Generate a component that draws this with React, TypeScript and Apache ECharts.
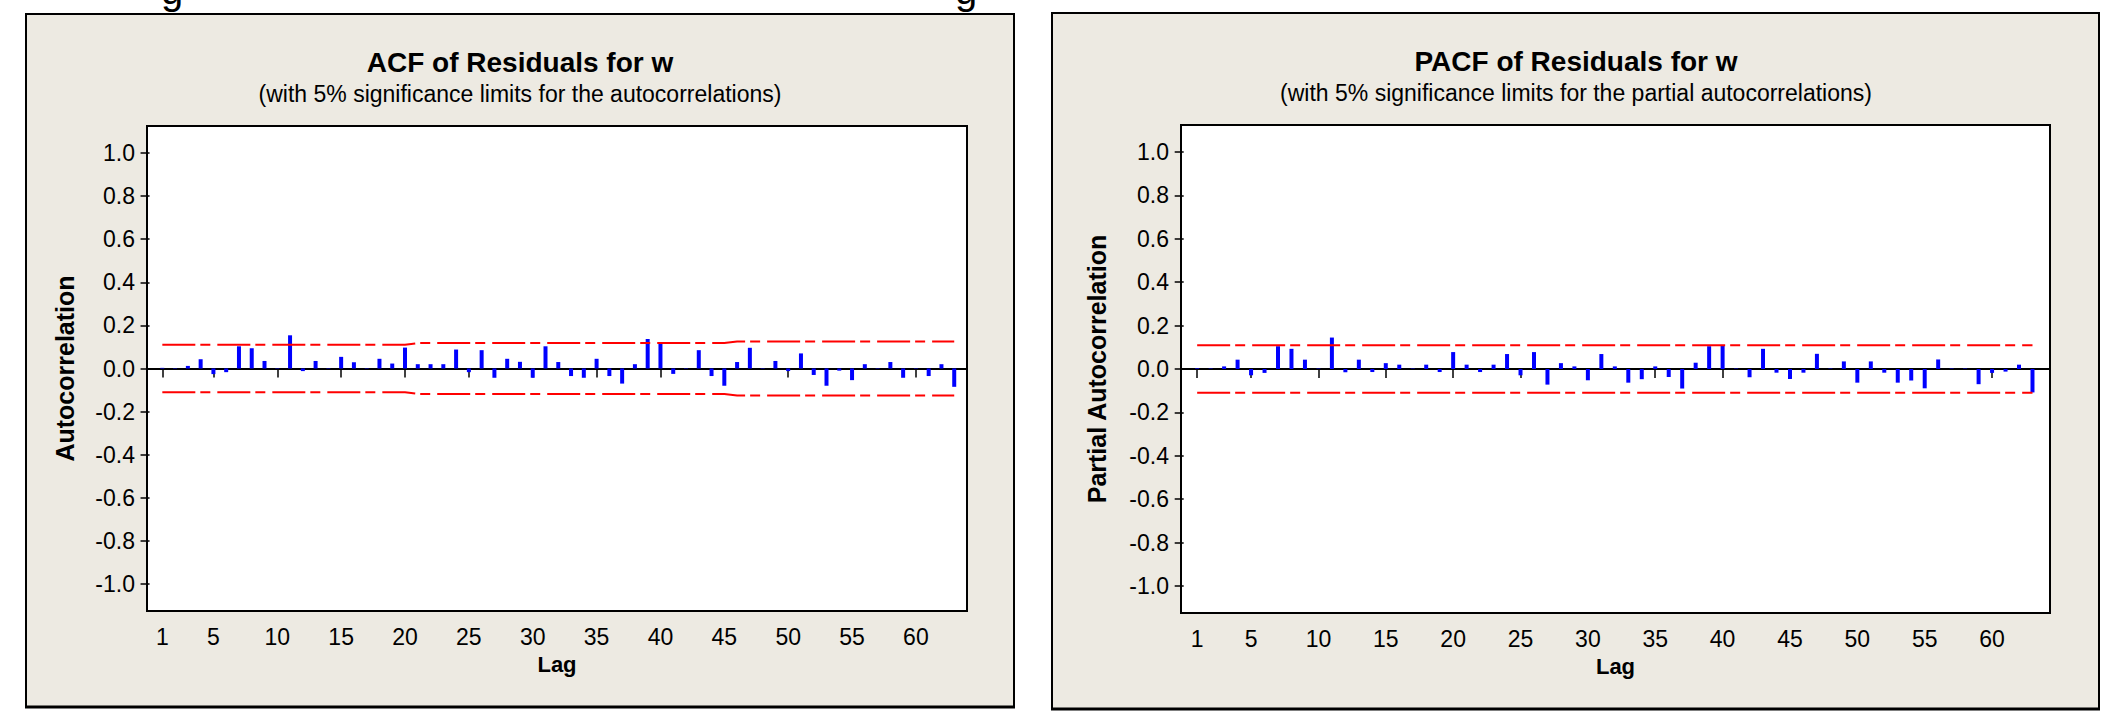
import React, { useEffect, useRef } from "react";
import * as echarts from "echarts";

// ---------- data ----------
const acfValues: number[] = [
  0.003, 0.002, 0.012, 0.043, -0.026, -0.017, 0.103, 0.094, 0.035, 0.002,
  0.154, -0.012, 0.035, 0.002, 0.054, 0.029, 0.002, 0.045, 0.023, 0.097,
  0.02, 0.02, 0.02, 0.088, -0.017, 0.085, -0.043, 0.045, 0.031, -0.043,
  0.103, 0.03, -0.035, -0.043, 0.045, -0.035, -0.07, 0.02, 0.137, 0.115,
  -0.025, 0.002, 0.085, -0.035, -0.08, 0.03, 0.096, 0.002, 0.035, -0.012,
  0.07, -0.03, -0.08, -0.01, -0.054, 0.02, 0.002, 0.03, -0.043, 0.002,
  -0.035, 0.02, -0.085,
];

const acfLimits: number[] = [
  0.11, 0.11, 0.11, 0.11, 0.11, 0.11, 0.11, 0.11, 0.11, 0.11,
  0.11, 0.11, 0.11, 0.11, 0.11, 0.11, 0.11, 0.11, 0.11, 0.11,
  0.118, 0.118, 0.118, 0.118, 0.118, 0.118, 0.118, 0.118, 0.118, 0.118,
  0.118, 0.118, 0.118, 0.118, 0.118, 0.118, 0.118, 0.118, 0.118, 0.118,
  0.118, 0.118, 0.118, 0.118, 0.118, 0.125, 0.125, 0.125, 0.125, 0.125,
  0.125, 0.125, 0.125, 0.125, 0.125, 0.125, 0.125, 0.125, 0.125, 0.125,
  0.125, 0.125, 0.125,
];

const pacfValues: number[] = [
  0.003, 0.002, 0.012, 0.043, -0.029, -0.018, 0.105, 0.093, 0.043, 0.002,
  0.145, -0.015, 0.043, -0.014, 0.027, 0.02, 0.002, 0.02, -0.014, 0.078,
  0.02, -0.014, 0.02, 0.069, -0.029, 0.078, -0.072, 0.027, 0.012, -0.052,
  0.069, 0.012, -0.063, -0.047, 0.012, -0.037, -0.09, 0.029, 0.105, 0.111,
  0.002, -0.038, 0.093, -0.017, -0.046, -0.017, 0.07, 0.002, 0.035, -0.063,
  0.035, -0.017, -0.063, -0.053, -0.089, 0.044, 0.002, 0.002, -0.07, -0.018,
  -0.012, 0.02, -0.108,
];

const pacfLimit = 0.11;
const lagTicks: number[] = [1, 5, 10, 15, 20, 25, 30, 35, 40, 45, 50, 55, 60];
const corrTicks: number[] = [-1, -0.8, -0.6, -0.4, -0.2, 0, 0.2, 0.4, 0.6, 0.8, 1];

const acfTitle = "ACF of Residuals for w";
const acfSubtitle = "(with 5% significance limits for the autocorrelations)";
const pacfTitle = "PACF of Residuals for w";
const pacfSubtitle = "(with 5% significance limits for the partial autocorrelations)";

// ---------- styling ----------
const FONT = '"Liberation Sans", Arial, sans-serif';
const PANEL = "#EDEAE2";
const BAR = "#0000FF";
const RED = "#FF0000";
const DASH = [33, 5, 10, 7];

function xAxis(gridIndex: number, min: number, max: number) {
  return {
    type: "value",
    gridIndex,
    min,
    max,
    name: "Lag",
    nameLocation: "middle",
    nameGap: 42,
    nameTextStyle: { fontFamily: FONT, fontWeight: "bold", fontSize: 22, color: "#000" },
    axisLine: { show: false },
    splitLine: { show: false },
    axisTick: {
      show: true,
      inside: false,
      length: 9,
      customValues: lagTicks,
      lineStyle: { color: "#000", width: 1.5 },
    },
    axisLabel: {
      show: true,
      customValues: lagTicks,
      margin: 14,
      fontFamily: FONT,
      fontSize: 23,
      color: "#000",
    },
  };
}

function yAxis(gridIndex: number, name: string, nameGap: number) {
  return {
    type: "value",
    gridIndex,
    min: -1.125,
    max: 1.125,
    name,
    nameLocation: "middle",
    nameRotate: 90,
    nameGap,
    nameTextStyle: { fontFamily: FONT, fontWeight: "bold", fontSize: 25, color: "#000" },
    axisLine: { show: false },
    splitLine: { show: false },
    axisTick: {
      show: true,
      inside: false,
      length: 9,
      customValues: corrTicks,
      lineStyle: { color: "#000", width: 1.5 },
    },
    axisLabel: {
      show: true,
      customValues: corrTicks,
      margin: 12,
      fontFamily: FONT,
      fontSize: 23,
      color: "#000",
      formatter: (v: number) => (Math.abs(v) < 1e-9 ? "0.0" : v.toFixed(1)),
    },
  };
}

function barSeries(idx: number, values: number[]) {
  return {
    type: "bar",
    xAxisIndex: idx,
    yAxisIndex: idx,
    barWidth: 4,
    itemStyle: { color: BAR },
    data: values.map((v, i) => [i + 1, v]),
    z: 3,
    markLine: {
      silent: true,
      symbol: ["none", "none"],
      label: { show: false },
      lineStyle: { color: "#000", width: 2, type: "solid" },
      data: [{ yAxis: 0 }],
      z: 2,
    },
  };
}

function limitSeries(idx: number, pts: number[][]) {
  return {
    type: "line",
    xAxisIndex: idx,
    yAxisIndex: idx,
    symbol: "none",
    silent: true,
    lineStyle: { color: RED, width: 2, type: DASH },
    data: pts,
    z: 4,
  };
}

function textEl(text: string, x: number, y: number, size: number, bold: boolean) {
  return {
    type: "text",
    x,
    y,
    z: 10,
    style: {
      text,
      fill: "#000",
      fontFamily: FONT,
      fontSize: size,
      fontWeight: bold ? "bold" : "normal",
      textAlign: "center",
      textVerticalAlign: "middle",
      align: "center",
      verticalAlign: "middle",
    },
  };
}

function panelBottom(x1: number, x2: number, y: number) {
  return {
    type: "line",
    z: -9,
    shape: { x1, y1: y, x2, y2: y },
    style: { stroke: "#000", lineWidth: 3 },
  };
}

export default function App() {
  const ref = useRef<HTMLDivElement>(null);

  useEffect(() => {
    if (!ref.current) return;
    const chart = echarts.init(ref.current, undefined, { renderer: "svg" });

    const acfUpper = acfLimits.map((v, i) => [i + 1, v]);
    const acfLower = acfLimits.map((v, i) => [i + 1, -v]);
    const pacfUpper = [[1, pacfLimit], [pacfValues.length, pacfLimit]];
    const pacfLower = [[1, -pacfLimit], [pacfValues.length, -pacfLimit]];

    const option = {
      animation: false,
      backgroundColor: "#FFFFFF",
      graphic: [
        {
          type: "rect",
          z: -10,
          shape: { x: 26, y: 14, width: 988, height: 693 },
          style: { fill: PANEL, stroke: "#000", lineWidth: 2 },
        },
        {
          type: "rect",
          z: -10,
          shape: { x: 1052, y: 13, width: 1047, height: 696 },
          style: { fill: PANEL, stroke: "#000", lineWidth: 2 },
        },
        panelBottom(25, 1015, 707),
        panelBottom(1051, 2100, 709),
        {
          type: "text",
          x: 172,
          y: -30,
          z: 10,
          style: { text: "g", fill: "#000", fontFamily: FONT, fontSize: 40, textAlign: "center", align: "center" },
        },
        {
          type: "text",
          x: 966,
          y: -30,
          z: 10,
          style: { text: "g", fill: "#000", fontFamily: FONT, fontSize: 40, textAlign: "center", align: "center" },
        },
        textEl(acfTitle, 520, 62, 28, true),
        textEl(acfSubtitle, 520, 94, 23, false),
        textEl(pacfTitle, 1576, 61, 28, true),
        textEl(pacfSubtitle, 1576, 93, 23, false),
      ],
      grid: [
        {
          left: 147, top: 126, width: 820, height: 485,
          show: true, backgroundColor: "#FFFFFF", borderColor: "#000", borderWidth: 2,
        },
        {
          left: 1181, top: 125, width: 869, height: 488,
          show: true, backgroundColor: "#FFFFFF", borderColor: "#000", borderWidth: 2,
        },
      ],
      xAxis: [xAxis(0, -0.2, 64), xAxis(1, -0.2, 64.3)],
      yAxis: [yAxis(0, "Autocorrelation", 70), yAxis(1, "Partial Autocorrelation", 72)],
      series: [
        barSeries(0, acfValues),
        limitSeries(0, acfUpper),
        limitSeries(0, acfLower),
        barSeries(1, pacfValues),
        limitSeries(1, pacfUpper),
        limitSeries(1, pacfLower),
      ],
    };

    chart.setOption(option as any);
    return () => chart.dispose();
  }, []);

  return (
    <div
      ref={ref}
      style={{ position: "fixed", left: 0, top: 0, width: 2109, height: 714 }}
    />
  );
}
